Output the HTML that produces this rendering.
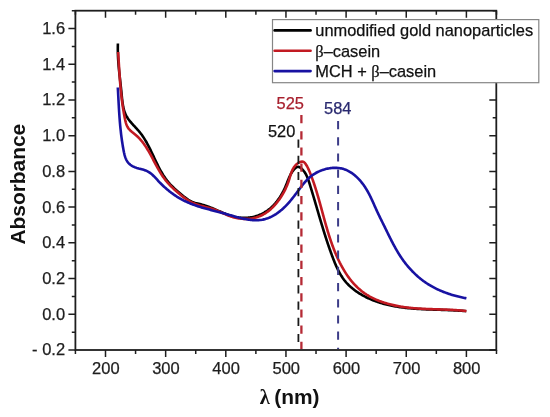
<!DOCTYPE html>
<html><head><meta charset="utf-8"><style>
html,body{margin:0;padding:0;background:#fff;width:550px;height:417px;overflow:hidden}
svg{display:block;will-change:transform}
</style></head><body>
<svg width="550" height="417" viewBox="0 0 550 417">
<rect width="550" height="417" fill="#fff"/>
<g fill="none" stroke-linejoin="round" stroke-linecap="butt" stroke-width="2.6">
<path d="M117.91,43.49 L117.87,44.69 L117.84,45.88 L117.83,47.07 L117.82,48.25 L117.82,49.42 L117.83,50.59 L117.85,51.76 L117.87,52.92 L117.91,54.07 L117.95,55.22 L118.00,56.37 L118.05,57.51 L118.11,58.65 L118.18,59.78 L118.25,60.92 L118.33,62.04 L118.41,63.17 L118.50,64.30 L118.59,65.42 L118.69,66.54 L118.79,67.66 L118.90,68.78 L119.01,69.90 L119.12,71.01 L119.24,72.13 L119.35,73.25 L119.47,74.37 L119.59,75.49 L119.72,76.61 L119.84,77.73 L119.97,78.85 L120.10,79.97 L120.22,81.10 L120.35,82.23 L120.48,83.36 L120.60,84.49 L120.73,85.63 L120.85,86.77 L120.98,87.91 L121.10,89.06 L121.22,90.21 L121.34,91.37 L121.45,92.53 L121.57,93.69 L121.68,94.86 L121.79,96.04 L121.90,97.21 L122.02,98.39 L122.15,99.56 L122.29,100.73 L122.44,101.90 L122.60,103.06 L122.78,104.22 L122.98,105.36 L123.20,106.50 L123.44,107.63 L123.71,108.74 L124.00,109.84 L124.33,110.93 L124.69,111.99 L125.08,113.04 L125.50,114.08 L125.97,115.09 L126.48,116.07 L127.03,117.04 L127.62,117.98 L128.24,118.91 L128.89,119.82 L129.58,120.71 L130.29,121.59 L131.02,122.46 L131.77,123.32 L132.53,124.17 L133.31,125.02 L134.09,125.87 L134.87,126.71 L135.66,127.56 L136.44,128.40 L137.22,129.26 L137.99,130.12 L138.74,130.99 L139.48,131.87 L140.20,132.76 L140.90,133.67 L141.58,134.58 L142.25,135.51 L142.90,136.45 L143.53,137.40 L144.15,138.35 L144.76,139.32 L145.35,140.30 L145.93,141.28 L146.50,142.27 L147.06,143.27 L147.61,144.27 L148.15,145.28 L148.68,146.29 L149.20,147.32 L149.72,148.34 L150.23,149.37 L150.73,150.40 L151.23,151.44 L151.73,152.47 L152.22,153.51 L152.71,154.55 L153.19,155.60 L153.68,156.64 L154.17,157.68 L154.65,158.72 L155.14,159.77 L155.63,160.80 L156.12,161.84 L156.62,162.88 L157.12,163.91 L157.63,164.94 L158.14,165.96 L158.66,166.98 L159.18,168.00 L159.71,169.01 L160.26,170.01 L160.81,171.01 L161.37,172.00 L161.94,172.98 L162.53,173.96 L163.12,174.93 L163.74,175.88 L164.36,176.83 L165.00,177.77 L165.65,178.70 L166.33,179.61 L167.01,180.52 L167.72,181.41 L168.45,182.29 L169.19,183.16 L169.95,184.02 L170.74,184.86 L171.54,185.69 L172.36,186.51 L173.19,187.31 L174.03,188.11 L174.89,188.90 L175.76,189.68 L176.63,190.45 L177.51,191.22 L178.40,191.98 L179.29,192.74 L180.18,193.49 L181.07,194.25 L181.96,194.99 L182.85,195.73 L183.75,196.45 L184.65,197.16 L185.57,197.85 L186.49,198.52 L187.42,199.17 L188.36,199.79 L189.32,200.37 L190.29,200.92 L191.28,201.44 L192.29,201.91 L193.32,202.34 L194.37,202.72 L195.44,203.05 L196.53,203.34 L197.64,203.61 L198.75,203.87 L199.87,204.12 L200.99,204.38 L202.11,204.66 L203.22,204.96 L204.33,205.29 L205.43,205.64 L206.52,206.00 L207.61,206.39 L208.70,206.79 L209.78,207.20 L210.86,207.63 L211.94,208.07 L213.02,208.52 L214.09,208.97 L215.16,209.43 L216.23,209.89 L217.30,210.36 L218.36,210.83 L219.43,211.29 L220.50,211.76 L221.57,212.22 L222.63,212.67 L223.70,213.11 L224.77,213.55 L225.85,213.97 L226.92,214.38 L228.00,214.78 L229.08,215.16 L230.16,215.52 L231.25,215.86 L232.34,216.18 L233.44,216.47 L234.54,216.75 L235.64,216.99 L236.75,217.21 L237.87,217.39 L238.99,217.55 L240.12,217.67 L241.25,217.76 L242.39,217.82 L243.52,217.84 L244.66,217.84 L245.80,217.80 L246.94,217.74 L248.08,217.64 L249.21,217.51 L250.34,217.35 L251.47,217.16 L252.59,216.94 L253.71,216.69 L254.81,216.41 L255.91,216.10 L257.00,215.75 L258.07,215.38 L259.14,214.98 L260.19,214.55 L261.23,214.09 L262.26,213.60 L263.27,213.08 L264.26,212.53 L265.23,211.95 L266.19,211.35 L267.13,210.71 L268.05,210.05 L268.95,209.37 L269.84,208.65 L270.70,207.92 L271.55,207.16 L272.38,206.37 L273.19,205.57 L273.99,204.74 L274.77,203.89 L275.52,203.03 L276.26,202.14 L276.99,201.24 L277.69,200.32 L278.38,199.38 L279.05,198.43 L279.70,197.47 L280.33,196.49 L280.95,195.50 L281.55,194.49 L282.13,193.48 L282.69,192.45 L283.24,191.42 L283.77,190.37 L284.28,189.32 L284.77,188.26 L285.25,187.20 L285.71,186.13 L286.15,185.05 L286.58,183.97 L287.00,182.90 L287.41,181.82 L287.83,180.75 L288.25,179.68 L288.68,178.62 L289.13,177.57 L289.60,176.53 L290.09,175.50 L290.61,174.49 L291.16,173.49 L291.75,172.52 L292.38,171.57 L293.07,170.63 L293.80,169.73 L294.59,168.86 L295.43,168.06 L296.31,167.41 L297.21,166.96 L298.14,166.80 L299.07,166.98 L299.99,167.47 L300.88,168.11 L301.70,168.81 L302.48,169.56 L303.21,170.35 L303.89,171.20 L304.53,172.08 L305.13,173.00 L305.69,173.95 L306.22,174.94 L306.72,175.96 L307.19,177.00 L307.63,178.06 L308.05,179.14 L308.45,180.24 L308.84,181.36 L309.21,182.48 L309.57,183.61 L309.93,184.74 L310.28,185.88 L310.62,187.01 L310.97,188.14 L311.31,189.27 L311.65,190.39 L311.99,191.52 L312.32,192.64 L312.66,193.76 L312.99,194.88 L313.32,196.00 L313.66,197.11 L313.98,198.23 L314.31,199.34 L314.64,200.45 L314.97,201.56 L315.29,202.67 L315.62,203.77 L315.94,204.88 L316.26,205.98 L316.59,207.08 L316.91,208.18 L317.23,209.28 L317.55,210.38 L317.87,211.48 L318.20,212.58 L318.52,213.67 L318.84,214.77 L319.16,215.86 L319.48,216.95 L319.81,218.04 L320.13,219.13 L320.45,220.22 L320.78,221.31 L321.11,222.40 L321.43,223.49 L321.76,224.57 L322.09,225.66 L322.42,226.74 L322.75,227.83 L323.08,228.91 L323.42,229.99 L323.76,231.08 L324.09,232.16 L324.43,233.24 L324.77,234.32 L325.12,235.40 L325.46,236.49 L325.81,237.57 L326.16,238.65 L326.52,239.73 L326.87,240.81 L327.23,241.89 L327.59,242.97 L327.95,244.05 L328.32,245.13 L328.69,246.21 L329.06,247.29 L329.44,248.37 L329.82,249.45 L330.20,250.53 L330.58,251.61 L330.97,252.69 L331.37,253.78 L331.76,254.86 L332.16,255.94 L332.57,257.02 L332.98,258.11 L333.39,259.19 L333.81,260.27 L334.24,261.35 L334.67,262.43 L335.11,263.50 L335.56,264.57 L336.02,265.63 L336.50,266.69 L336.98,267.74 L337.47,268.78 L337.98,269.82 L338.50,270.85 L339.03,271.86 L339.58,272.87 L340.14,273.87 L340.72,274.86 L341.31,275.83 L341.93,276.79 L342.56,277.74 L343.21,278.67 L343.88,279.59 L344.57,280.49 L345.29,281.38 L346.02,282.25 L346.77,283.10 L347.55,283.93 L348.35,284.75 L349.16,285.55 L349.99,286.34 L350.84,287.10 L351.71,287.85 L352.59,288.59 L353.49,289.31 L354.40,290.01 L355.33,290.70 L356.26,291.37 L357.21,292.02 L358.18,292.66 L359.15,293.28 L360.13,293.89 L361.12,294.48 L362.12,295.06 L363.13,295.62 L364.14,296.17 L365.16,296.70 L366.18,297.22 L367.21,297.72 L368.24,298.21 L369.28,298.68 L370.33,299.14 L371.37,299.59 L372.42,300.02 L373.48,300.44 L374.54,300.85 L375.61,301.24 L376.67,301.62 L377.75,301.99 L378.82,302.35 L379.90,302.69 L380.99,303.03 L382.08,303.35 L383.17,303.66 L384.26,303.96 L385.36,304.25 L386.46,304.53 L387.56,304.79 L388.67,305.05 L389.78,305.30 L390.90,305.54 L392.01,305.76 L393.13,305.98 L394.25,306.19 L395.38,306.40 L396.50,306.59 L397.63,306.77 L398.76,306.95 L399.90,307.12 L401.03,307.28 L402.17,307.43 L403.31,307.58 L404.45,307.72 L405.59,307.85 L406.74,307.98 L407.88,308.10 L409.03,308.21 L410.18,308.32 L411.33,308.42 L412.48,308.52 L413.63,308.61 L414.78,308.70 L415.94,308.78 L417.09,308.86 L418.25,308.93 L419.40,309.00 L420.56,309.07 L421.72,309.13 L422.88,309.19 L424.03,309.24 L425.19,309.30 L426.35,309.35 L427.51,309.39 L428.67,309.44 L429.83,309.48 L430.98,309.53 L432.14,309.57 L433.30,309.60 L434.45,309.64 L435.61,309.68 L436.77,309.72 L437.92,309.75 L439.07,309.79 L440.23,309.82 L441.38,309.86 L442.53,309.90 L443.68,309.93 L444.82,309.97 L445.97,310.01 L447.11,310.05 L448.26,310.09 L449.40,310.14 L450.54,310.18 L451.68,310.23 L452.81,310.28 L453.95,310.34 L455.08,310.39 L456.21,310.45 L457.33,310.52 L458.46,310.58 L459.58,310.65 L460.70,310.73 L461.82,310.81 L462.93,310.89 L464.04,310.98 L465.15,311.07 L466.25,311.17" stroke="#000"/>
<path d="M118.13,51.97 L118.20,53.13 L118.28,54.30 L118.35,55.46 L118.42,56.62 L118.49,57.78 L118.56,58.94 L118.63,60.09 L118.70,61.25 L118.77,62.40 L118.84,63.55 L118.91,64.70 L118.98,65.85 L119.05,67.00 L119.12,68.14 L119.19,69.29 L119.26,70.43 L119.34,71.58 L119.41,72.72 L119.49,73.86 L119.57,75.00 L119.65,76.14 L119.73,77.28 L119.81,78.42 L119.89,79.55 L119.98,80.69 L120.07,81.83 L120.16,82.96 L120.26,84.10 L120.35,85.24 L120.45,86.37 L120.55,87.51 L120.66,88.64 L120.76,89.78 L120.88,90.91 L120.99,92.05 L121.11,93.18 L121.23,94.32 L121.35,95.45 L121.48,96.59 L121.61,97.72 L121.75,98.86 L121.89,99.99 L122.04,101.13 L122.19,102.27 L122.34,103.41 L122.50,104.55 L122.67,105.69 L122.84,106.83 L123.01,107.97 L123.19,109.11 L123.37,110.25 L123.56,111.40 L123.76,112.54 L123.96,113.69 L124.17,114.84 L124.38,115.99 L124.60,117.14 L124.83,118.29 L125.06,119.44 L125.32,120.59 L125.59,121.72 L125.90,122.84 L126.24,123.93 L126.63,125.00 L127.08,126.03 L127.59,127.02 L128.17,127.97 L128.82,128.86 L129.56,129.70 L130.35,130.51 L131.20,131.27 L132.08,132.02 L132.99,132.75 L133.90,133.48 L134.82,134.21 L135.71,134.95 L136.58,135.72 L137.43,136.50 L138.25,137.30 L139.05,138.11 L139.83,138.95 L140.59,139.79 L141.32,140.66 L142.04,141.53 L142.75,142.43 L143.43,143.33 L144.10,144.24 L144.76,145.17 L145.40,146.11 L146.03,147.06 L146.64,148.02 L147.24,148.98 L147.84,149.96 L148.42,150.94 L149.00,151.93 L149.56,152.93 L150.12,153.93 L150.68,154.94 L151.23,155.95 L151.77,156.96 L152.31,157.98 L152.85,159.00 L153.39,160.02 L153.92,161.04 L154.46,162.06 L155.00,163.08 L155.54,164.10 L156.08,165.12 L156.63,166.13 L157.18,167.15 L157.73,168.15 L158.30,169.16 L158.87,170.16 L159.45,171.15 L160.03,172.13 L160.63,173.11 L161.24,174.08 L161.86,175.05 L162.50,176.00 L163.15,176.94 L163.81,177.87 L164.49,178.80 L165.18,179.70 L165.89,180.60 L166.62,181.48 L167.37,182.36 L168.13,183.21 L168.90,184.06 L169.69,184.90 L170.50,185.73 L171.31,186.54 L172.13,187.35 L172.97,188.15 L173.81,188.95 L174.66,189.73 L175.52,190.51 L176.38,191.28 L177.24,192.05 L178.11,192.81 L178.99,193.56 L179.87,194.31 L180.76,195.04 L181.65,195.76 L182.55,196.47 L183.46,197.16 L184.38,197.84 L185.31,198.51 L186.24,199.15 L187.19,199.78 L188.15,200.38 L189.12,200.97 L190.10,201.53 L191.10,202.06 L192.11,202.57 L193.13,203.06 L194.17,203.51 L195.22,203.94 L196.28,204.34 L197.36,204.71 L198.45,205.07 L199.55,205.40 L200.66,205.72 L201.77,206.03 L202.89,206.33 L204.02,206.62 L205.14,206.91 L206.27,207.19 L207.39,207.48 L208.52,207.77 L209.64,208.07 L210.76,208.38 L211.86,208.71 L212.97,209.05 L214.06,209.41 L215.14,209.79 L216.21,210.19 L217.27,210.62 L218.32,211.07 L219.37,211.53 L220.40,212.00 L221.44,212.48 L222.47,212.97 L223.51,213.45 L224.54,213.93 L225.58,214.40 L226.63,214.86 L227.68,215.30 L228.75,215.73 L229.82,216.13 L230.91,216.51 L232.01,216.86 L233.12,217.18 L234.24,217.48 L235.37,217.75 L236.51,217.99 L237.65,218.20 L238.80,218.38 L239.95,218.54 L241.10,218.67 L242.26,218.76 L243.42,218.83 L244.58,218.87 L245.74,218.87 L246.89,218.85 L248.04,218.79 L249.19,218.70 L250.33,218.58 L251.47,218.43 L252.60,218.24 L253.72,218.02 L254.83,217.76 L255.93,217.48 L257.02,217.15 L258.10,216.80 L259.16,216.40 L260.21,215.98 L261.24,215.51 L262.26,215.01 L263.26,214.48 L264.24,213.92 L265.21,213.32 L266.16,212.70 L267.10,212.04 L268.02,211.36 L268.92,210.65 L269.81,209.92 L270.68,209.17 L271.53,208.39 L272.37,207.59 L273.19,206.77 L274.00,205.93 L274.78,205.07 L275.55,204.19 L276.31,203.30 L277.04,202.40 L277.76,201.48 L278.46,200.55 L279.15,199.61 L279.82,198.67 L280.47,197.71 L281.10,196.74 L281.71,195.77 L282.31,194.80 L282.89,193.82 L283.45,192.84 L284.00,191.85 L284.52,190.85 L285.04,189.85 L285.53,188.83 L286.01,187.81 L286.47,186.78 L286.91,185.74 L287.34,184.69 L287.75,183.63 L288.14,182.55 L288.52,181.47 L288.89,180.36 L289.24,179.25 L289.58,178.12 L289.91,176.99 L290.26,175.86 L290.61,174.74 L290.98,173.62 L291.37,172.52 L291.79,171.43 L292.25,170.37 L292.74,169.34 L293.29,168.34 L293.88,167.37 L294.54,166.45 L295.26,165.57 L296.06,164.74 L296.93,163.96 L297.89,163.25 L298.92,162.62 L299.99,162.10 L301.07,161.76 L302.12,161.62 L303.10,161.74 L303.99,162.15 L304.77,162.85 L305.47,163.73 L306.11,164.71 L306.71,165.71 L307.28,166.73 L307.82,167.77 L308.32,168.82 L308.81,169.89 L309.28,170.96 L309.73,172.05 L310.16,173.13 L310.59,174.22 L311.01,175.31 L311.43,176.40 L311.83,177.49 L312.23,178.58 L312.63,179.67 L313.02,180.76 L313.40,181.86 L313.77,182.95 L314.14,184.04 L314.51,185.14 L314.87,186.23 L315.22,187.33 L315.57,188.42 L315.92,189.52 L316.26,190.62 L316.59,191.71 L316.93,192.81 L317.25,193.91 L317.58,195.01 L317.90,196.11 L318.22,197.20 L318.54,198.30 L318.85,199.40 L319.16,200.50 L319.47,201.60 L319.78,202.70 L320.08,203.80 L320.39,204.90 L320.69,206.00 L320.99,207.10 L321.29,208.20 L321.59,209.30 L321.89,210.40 L322.19,211.50 L322.48,212.60 L322.78,213.70 L323.08,214.80 L323.38,215.90 L323.68,217.00 L323.98,218.10 L324.28,219.19 L324.59,220.29 L324.89,221.39 L325.20,222.49 L325.51,223.59 L325.82,224.69 L326.13,225.78 L326.45,226.88 L326.77,227.98 L327.09,229.07 L327.42,230.17 L327.75,231.27 L328.08,232.36 L328.42,233.46 L328.76,234.55 L329.10,235.64 L329.45,236.74 L329.81,237.83 L330.17,238.92 L330.53,240.01 L330.90,241.10 L331.28,242.19 L331.66,243.28 L332.05,244.37 L332.44,245.46 L332.84,246.55 L333.25,247.63 L333.66,248.72 L334.09,249.80 L334.51,250.88 L334.95,251.96 L335.39,253.04 L335.84,254.12 L336.30,255.19 L336.77,256.26 L337.24,257.33 L337.73,258.39 L338.22,259.44 L338.72,260.50 L339.23,261.54 L339.74,262.59 L340.27,263.62 L340.80,264.66 L341.35,265.68 L341.90,266.70 L342.47,267.71 L343.04,268.71 L343.62,269.71 L344.21,270.70 L344.82,271.68 L345.43,272.65 L346.05,273.62 L346.69,274.57 L347.33,275.52 L347.99,276.45 L348.66,277.38 L349.34,278.29 L350.02,279.19 L350.73,280.09 L351.44,280.97 L352.16,281.84 L352.90,282.69 L353.65,283.54 L354.41,284.37 L355.18,285.19 L355.97,286.00 L356.77,286.79 L357.58,287.57 L358.40,288.33 L359.24,289.08 L360.09,289.81 L360.95,290.53 L361.83,291.24 L362.72,291.92 L363.62,292.59 L364.54,293.25 L365.48,293.89 L366.42,294.51 L367.38,295.11 L368.36,295.70 L369.34,296.27 L370.34,296.82 L371.35,297.36 L372.37,297.88 L373.41,298.39 L374.45,298.88 L375.50,299.36 L376.56,299.82 L377.63,300.27 L378.71,300.70 L379.79,301.12 L380.89,301.53 L381.99,301.92 L383.09,302.29 L384.20,302.66 L385.32,303.01 L386.44,303.35 L387.57,303.67 L388.70,303.99 L389.83,304.29 L390.97,304.58 L392.11,304.85 L393.25,305.12 L394.39,305.37 L395.53,305.61 L396.68,305.84 L397.82,306.07 L398.96,306.28 L400.11,306.48 L401.25,306.67 L402.39,306.85 L403.53,307.02 L404.67,307.18 L405.81,307.33 L406.95,307.48 L408.09,307.61 L409.22,307.74 L410.36,307.86 L411.50,307.98 L412.63,308.08 L413.77,308.18 L414.91,308.28 L416.04,308.37 L417.18,308.45 L418.32,308.53 L419.45,308.60 L420.59,308.67 L421.72,308.73 L422.86,308.79 L423.99,308.84 L425.13,308.90 L426.27,308.95 L427.40,308.99 L428.54,309.03 L429.68,309.08 L430.81,309.11 L431.95,309.15 L433.09,309.19 L434.23,309.22 L435.37,309.26 L436.51,309.29 L437.65,309.33 L438.79,309.36 L439.93,309.39 L441.07,309.43 L442.22,309.47 L443.36,309.51 L444.50,309.55 L445.65,309.59 L446.80,309.63 L447.94,309.68 L449.09,309.73 L450.24,309.78 L451.39,309.84 L452.54,309.90 L453.69,309.97 L454.85,310.04 L456.00,310.11 L457.16,310.19 L458.32,310.28 L459.48,310.37 L460.64,310.47 L461.80,310.57 L462.96,310.68 L464.13,310.80 L465.29,310.93 L466.46,311.06" stroke="#c21a22"/>
<path d="M117.81,87.53 L117.87,88.59 L117.93,89.65 L117.99,90.71 L118.04,91.76 L118.10,92.81 L118.15,93.86 L118.21,94.91 L118.26,95.95 L118.32,96.99 L118.37,98.03 L118.42,99.07 L118.48,100.11 L118.53,101.14 L118.59,102.17 L118.64,103.20 L118.70,104.23 L118.75,105.25 L118.81,106.28 L118.87,107.30 L118.93,108.33 L118.99,109.35 L119.05,110.37 L119.11,111.39 L119.18,112.40 L119.24,113.42 L119.31,114.44 L119.38,115.46 L119.45,116.47 L119.52,117.49 L119.60,118.50 L119.68,119.52 L119.76,120.54 L119.84,121.55 L119.92,122.57 L120.01,123.58 L120.10,124.60 L120.19,125.62 L120.29,126.63 L120.39,127.65 L120.49,128.67 L120.60,129.69 L120.71,130.71 L120.82,131.73 L120.94,132.76 L121.06,133.78 L121.18,134.81 L121.31,135.83 L121.44,136.86 L121.58,137.89 L121.72,138.93 L121.86,139.96 L122.01,141.00 L122.17,142.03 L122.33,143.07 L122.49,144.12 L122.66,145.16 L122.83,146.21 L123.01,147.26 L123.20,148.31 L123.39,149.37 L123.58,150.43 L123.79,151.49 L124.00,152.54 L124.24,153.58 L124.49,154.62 L124.77,155.64 L125.07,156.64 L125.40,157.61 L125.77,158.56 L126.18,159.48 L126.62,160.36 L127.12,161.21 L127.66,162.01 L128.25,162.76 L128.90,163.47 L129.61,164.13 L130.36,164.74 L131.16,165.31 L131.99,165.83 L132.87,166.32 L133.78,166.76 L134.71,167.17 L135.67,167.55 L136.65,167.89 L137.65,168.20 L138.65,168.49 L139.67,168.76 L140.68,169.03 L141.70,169.30 L142.71,169.57 L143.70,169.86 L144.69,170.17 L145.65,170.52 L146.59,170.90 L147.50,171.32 L148.37,171.80 L149.22,172.32 L150.05,172.88 L150.85,173.48 L151.62,174.12 L152.38,174.79 L153.13,175.49 L153.86,176.20 L154.58,176.94 L155.29,177.69 L156.00,178.45 L156.71,179.22 L157.42,179.99 L158.13,180.76 L158.84,181.52 L159.57,182.28 L160.30,183.03 L161.03,183.78 L161.78,184.51 L162.53,185.24 L163.28,185.96 L164.05,186.67 L164.82,187.38 L165.59,188.07 L166.37,188.76 L167.16,189.44 L167.96,190.10 L168.76,190.76 L169.57,191.41 L170.39,192.05 L171.21,192.68 L172.04,193.30 L172.87,193.91 L173.71,194.51 L174.56,195.10 L175.41,195.67 L176.27,196.24 L177.14,196.79 L178.01,197.33 L178.89,197.86 L179.77,198.38 L180.66,198.89 L181.56,199.38 L182.46,199.86 L183.37,200.33 L184.28,200.79 L185.20,201.24 L186.12,201.67 L187.05,202.10 L187.99,202.51 L188.92,202.92 L189.87,203.31 L190.82,203.70 L191.77,204.07 L192.73,204.44 L193.69,204.80 L194.65,205.15 L195.62,205.49 L196.59,205.83 L197.57,206.16 L198.55,206.48 L199.53,206.79 L200.52,207.09 L201.50,207.39 L202.49,207.69 L203.49,207.98 L204.48,208.26 L205.48,208.54 L206.48,208.81 L207.48,209.08 L208.49,209.35 L209.49,209.61 L210.49,209.88 L211.50,210.14 L212.50,210.40 L213.51,210.65 L214.51,210.91 L215.51,211.17 L216.51,211.43 L217.52,211.69 L218.52,211.95 L219.51,212.21 L220.51,212.47 L221.50,212.74 L222.49,213.01 L223.48,213.29 L224.47,213.56 L225.45,213.84 L226.44,214.13 L227.42,214.41 L228.40,214.70 L229.38,214.98 L230.36,215.26 L231.34,215.55 L232.32,215.83 L233.31,216.11 L234.29,216.39 L235.28,216.66 L236.27,216.93 L237.27,217.20 L238.27,217.46 L239.27,217.71 L240.28,217.96 L241.29,218.20 L242.31,218.43 L243.33,218.66 L244.36,218.87 L245.39,219.08 L246.42,219.27 L247.46,219.45 L248.50,219.61 L249.54,219.76 L250.59,219.89 L251.63,220.00 L252.67,220.09 L253.71,220.16 L254.75,220.21 L255.79,220.23 L256.82,220.23 L257.85,220.20 L258.87,220.14 L259.89,220.06 L260.91,219.94 L261.91,219.79 L262.91,219.61 L263.90,219.39 L264.88,219.15 L265.86,218.87 L266.82,218.56 L267.78,218.23 L268.73,217.86 L269.67,217.47 L270.60,217.05 L271.52,216.61 L272.44,216.14 L273.34,215.65 L274.23,215.14 L275.11,214.60 L275.99,214.05 L276.85,213.47 L277.70,212.88 L278.54,212.27 L279.37,211.64 L280.19,210.99 L280.99,210.33 L281.79,209.66 L282.57,208.97 L283.35,208.27 L284.10,207.56 L284.85,206.83 L285.59,206.10 L286.31,205.36 L287.02,204.61 L287.72,203.85 L288.41,203.09 L289.09,202.31 L289.77,201.53 L290.43,200.75 L291.09,199.96 L291.74,199.16 L292.38,198.36 L293.02,197.55 L293.65,196.74 L294.28,195.93 L294.90,195.11 L295.52,194.30 L296.14,193.48 L296.76,192.66 L297.38,191.84 L297.99,191.01 L298.61,190.19 L299.22,189.37 L299.84,188.55 L300.46,187.73 L301.09,186.92 L301.71,186.10 L302.34,185.30 L302.98,184.49 L303.62,183.70 L304.28,182.91 L304.94,182.13 L305.61,181.37 L306.30,180.61 L307.00,179.87 L307.72,179.15 L308.45,178.44 L309.20,177.75 L309.96,177.08 L310.75,176.43 L311.56,175.81 L312.38,175.20 L313.23,174.62 L314.09,174.06 L314.97,173.52 L315.87,173.00 L316.78,172.50 L317.70,172.03 L318.64,171.58 L319.59,171.16 L320.56,170.76 L321.53,170.38 L322.52,170.02 L323.51,169.69 L324.52,169.38 L325.53,169.10 L326.55,168.85 L327.57,168.62 L328.60,168.42 L329.63,168.24 L330.66,168.10 L331.70,167.99 L332.73,167.90 L333.76,167.85 L334.79,167.82 L335.82,167.83 L336.85,167.87 L337.86,167.94 L338.88,168.05 L339.88,168.19 L340.88,168.37 L341.87,168.58 L342.85,168.82 L343.81,169.11 L344.77,169.43 L345.71,169.78 L346.64,170.17 L347.56,170.60 L348.46,171.05 L349.35,171.54 L350.23,172.05 L351.10,172.60 L351.95,173.17 L352.79,173.77 L353.62,174.39 L354.43,175.04 L355.22,175.71 L356.01,176.40 L356.78,177.11 L357.53,177.84 L358.27,178.59 L359.00,179.36 L359.71,180.14 L360.41,180.94 L361.09,181.75 L361.75,182.58 L362.41,183.41 L363.04,184.25 L363.66,185.11 L364.26,185.97 L364.85,186.84 L365.42,187.71 L365.98,188.59 L366.52,189.47 L367.05,190.36 L367.56,191.25 L368.06,192.15 L368.55,193.05 L369.03,193.95 L369.50,194.86 L369.96,195.76 L370.41,196.68 L370.86,197.59 L371.30,198.51 L371.73,199.43 L372.15,200.35 L372.58,201.28 L373.00,202.21 L373.41,203.13 L373.83,204.06 L374.24,204.99 L374.65,205.93 L375.07,206.86 L375.48,207.79 L375.90,208.73 L376.32,209.66 L376.75,210.59 L377.18,211.53 L377.61,212.46 L378.05,213.39 L378.49,214.33 L378.94,215.26 L379.39,216.19 L379.84,217.13 L380.30,218.06 L380.76,218.99 L381.22,219.92 L381.68,220.86 L382.14,221.79 L382.60,222.72 L383.07,223.65 L383.53,224.58 L383.99,225.52 L384.45,226.45 L384.91,227.38 L385.36,228.32 L385.82,229.25 L386.27,230.18 L386.73,231.11 L387.18,232.04 L387.64,232.97 L388.10,233.90 L388.55,234.83 L389.01,235.76 L389.47,236.68 L389.93,237.61 L390.39,238.53 L390.86,239.45 L391.33,240.37 L391.80,241.29 L392.27,242.20 L392.75,243.11 L393.23,244.02 L393.71,244.93 L394.20,245.83 L394.69,246.74 L395.19,247.63 L395.69,248.53 L396.20,249.42 L396.72,250.31 L397.23,251.19 L397.76,252.08 L398.29,252.95 L398.83,253.83 L399.37,254.70 L399.92,255.56 L400.48,256.42 L401.05,257.28 L401.62,258.13 L402.21,258.97 L402.80,259.82 L403.40,260.65 L404.01,261.48 L404.63,262.31 L405.25,263.13 L405.89,263.94 L406.54,264.75 L407.19,265.55 L407.85,266.35 L408.53,267.14 L409.21,267.92 L409.90,268.69 L410.59,269.46 L411.30,270.22 L412.01,270.97 L412.74,271.72 L413.47,272.45 L414.21,273.18 L414.96,273.90 L415.71,274.61 L416.47,275.31 L417.24,276.01 L418.02,276.69 L418.81,277.37 L419.60,278.03 L420.41,278.68 L421.21,279.33 L422.03,279.96 L422.85,280.59 L423.69,281.20 L424.52,281.80 L425.37,282.39 L426.22,282.97 L427.08,283.54 L427.94,284.09 L428.82,284.64 L429.69,285.17 L430.58,285.69 L431.47,286.21 L432.37,286.71 L433.27,287.20 L434.18,287.68 L435.09,288.15 L436.01,288.61 L436.94,289.06 L437.86,289.50 L438.80,289.92 L439.74,290.34 L440.68,290.75 L441.63,291.15 L442.59,291.54 L443.54,291.92 L444.50,292.29 L445.47,292.65 L446.44,293.01 L447.41,293.35 L448.39,293.69 L449.37,294.01 L450.35,294.33 L451.34,294.64 L452.33,294.94 L453.32,295.23 L454.32,295.51 L455.31,295.79 L456.31,296.06 L457.32,296.32 L458.32,296.57 L459.33,296.81 L460.34,297.05 L461.35,297.28 L462.36,297.50 L463.37,297.72 L464.38,297.92 L465.40,298.12 L466.42,298.32" stroke="#1812a2"/>
</g>
<line x1="298.40" y1="139.50" x2="298.40" y2="349.00" stroke="#1a1a1a" stroke-width="1.8" stroke-dasharray="8.2 8"/>
<line x1="301.40" y1="115.00" x2="301.40" y2="349.00" stroke="#b52a35" stroke-width="2.3" stroke-dasharray="8.2 8"/>
<line x1="338.10" y1="121.00" x2="338.10" y2="349.00" stroke="#3c3c88" stroke-width="2.0" stroke-dasharray="8.2 8"/>
<path d="M75.42,350.00v4.00M75.42,10.70v4.00M105.50,350.00v7.00M105.50,10.70v7.00M135.57,350.00v4.00M135.57,10.70v4.00M165.65,350.00v7.00M165.65,10.70v7.00M195.73,350.00v4.00M195.73,10.70v4.00M225.80,350.00v7.00M225.80,10.70v7.00M255.88,350.00v4.00M255.88,10.70v4.00M285.95,350.00v7.00M285.95,10.70v7.00M316.02,350.00v4.00M316.02,10.70v4.00M346.10,350.00v7.00M346.10,10.70v7.00M376.18,350.00v4.00M376.18,10.70v4.00M406.25,350.00v7.00M406.25,10.70v7.00M436.33,350.00v4.00M436.33,10.70v4.00M466.40,350.00v7.00M466.40,10.70v7.00M496.48,350.00v4.00M496.48,10.70v4.00M75.40,350.00h-7.00M496.30,350.00h-7.00M75.40,332.14h-3.60M496.30,332.14h-3.60M75.40,314.28h-7.00M496.30,314.28h-7.00M75.40,296.42h-3.60M496.30,296.42h-3.60M75.40,278.56h-7.00M496.30,278.56h-7.00M75.40,260.70h-3.60M496.30,260.70h-3.60M75.40,242.84h-7.00M496.30,242.84h-7.00M75.40,224.98h-3.60M496.30,224.98h-3.60M75.40,207.12h-7.00M496.30,207.12h-7.00M75.40,189.26h-3.60M496.30,189.26h-3.60M75.40,171.40h-7.00M496.30,171.40h-7.00M75.40,153.54h-3.60M496.30,153.54h-3.60M75.40,135.68h-7.00M496.30,135.68h-7.00M75.40,117.82h-3.60M496.30,117.82h-3.60M75.40,99.96h-7.00M496.30,99.96h-7.00M75.40,82.10h-3.60M496.30,82.10h-3.60M75.40,64.24h-7.00M496.30,64.24h-7.00M75.40,46.38h-3.60M496.30,46.38h-3.60M75.40,28.52h-7.00M496.30,28.52h-7.00M75.40,10.66h-3.60M496.30,10.66h-3.60" stroke="#1e1e1e" stroke-width="1.5" fill="none"/>
<rect x="75.4" y="10.7" width="420.90" height="339.30" fill="none" stroke="#1e1e1e" stroke-width="1.8"/>
<g font-family="Liberation Sans, sans-serif" font-size="16.5" fill="#1e1e1e" stroke="#1e1e1e" stroke-width="0.25">
<text x="105.80" y="374.4" text-anchor="middle">200</text><text x="165.95" y="374.4" text-anchor="middle">300</text><text x="226.10" y="374.4" text-anchor="middle">400</text><text x="286.25" y="374.4" text-anchor="middle">500</text><text x="346.40" y="374.4" text-anchor="middle">600</text><text x="406.55" y="374.4" text-anchor="middle">700</text><text x="466.70" y="374.4" text-anchor="middle">800</text><text x="65.1" y="355.40" text-anchor="end">- 0.2</text><text x="65.1" y="319.68" text-anchor="end">0.0</text><text x="65.1" y="283.96" text-anchor="end">0.2</text><text x="65.1" y="248.24" text-anchor="end">0.4</text><text x="65.1" y="212.52" text-anchor="end">0.6</text><text x="65.1" y="176.80" text-anchor="end">0.8</text><text x="65.1" y="141.08" text-anchor="end">1.0</text><text x="65.1" y="105.36" text-anchor="end">1.2</text><text x="65.1" y="69.64" text-anchor="end">1.4</text><text x="65.1" y="33.92" text-anchor="end">1.6</text>
</g>
<rect x="272.5" y="19.6" width="266.3" height="63.1" fill="#fff" stroke="#858585" stroke-width="1.2"/>
<g stroke-width="2.6" stroke-linecap="round">
<line x1="274.6" y1="30.4" x2="310.6" y2="30.4" stroke="#000"/>
<line x1="274.6" y1="50.8" x2="310.6" y2="50.8" stroke="#c21a22"/>
<line x1="274.6" y1="71.1" x2="310.6" y2="71.1" stroke="#1812a2"/>
</g>
<g font-family="Liberation Sans, sans-serif" font-size="16.4" fill="#111" stroke="#111" stroke-width="0.25">
<text x="315.3" y="36">unmodified gold nanoparticles</text>
<text x="315.3" y="56.5"><tspan font-family="Liberation Serif, serif">β</tspan>–casein</text>
<text x="315.3" y="76.6">MCH + <tspan font-family="Liberation Serif, serif">β</tspan>–casein</text>
</g>
<g font-family="Liberation Sans, sans-serif" font-size="16.4" stroke-width="0.25">
<text x="276.6" y="108.9" fill="#a8202e" stroke="#a8202e">525</text>
<text x="324.1" y="113.7" fill="#2a2a70" stroke="#2a2a70">584</text>
<text x="268" y="137" fill="#111" stroke="#111">520</text>
</g>
<text transform="translate(24.7,244.5) rotate(-90)" font-family="Liberation Sans, sans-serif" font-weight="bold" font-size="20.9" fill="#111">Absorbance</text>
<text x="259.8" y="403.6" font-family="Liberation Serif, serif" font-weight="bold" font-size="20.5" fill="#111">λ</text>
<text x="274.3" y="404.2" font-family="Liberation Sans, sans-serif" font-weight="bold" font-size="20.9" fill="#111">(nm)</text>
</svg>
</body></html>
